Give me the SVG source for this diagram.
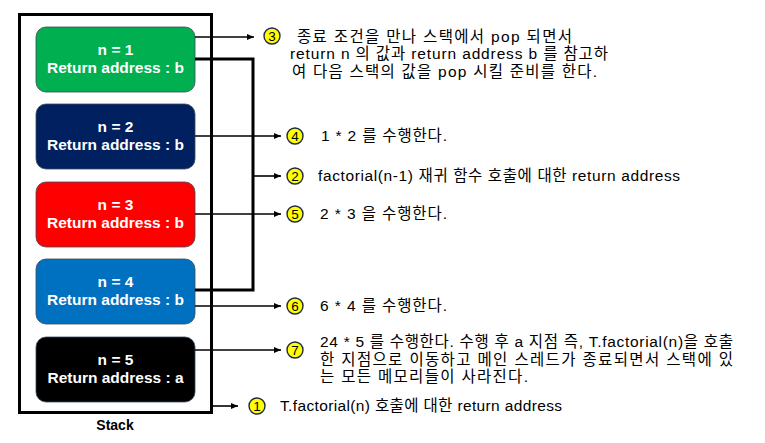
<svg xmlns="http://www.w3.org/2000/svg" width="765" height="443" viewBox="0 0 765 443">
<defs>
<marker id="ah" markerWidth="8" markerHeight="8" refX="7" refY="4" orient="auto" markerUnits="userSpaceOnUse">
<path d="M0,1 L7,4 L0,7 Z" fill="#000"/>
</marker>
<style>
.node rect{stroke:#3a4a5a;stroke-width:0.8}
.nt{font-family:"Liberation Sans",Arial,sans-serif;font-weight:bold;font-size:15.5px;fill:#fff;text-anchor:middle}
.lbl{font-family:"Liberation Sans","Noto Sans CJK KR",sans-serif;font-size:15.5px;fill:#000}
.num circle{fill:#FFFF00;stroke:#1f2a44;stroke-width:1.4}
.num text{font-family:"Liberation Sans",sans-serif;font-size:13.5px;fill:#000;text-anchor:middle}
.arr{stroke:#000;stroke-width:1.6;fill:none;marker-end:url(#ah)}
</style>
</defs>
<rect width="765" height="443" fill="#fff"/>
<g id="stack">
<rect x="19.5" y="14.5" width="192" height="398" fill="#fff" stroke="#000" stroke-width="3"/>
<text x="115" y="430" font-family="Liberation Sans, Arial, sans-serif" font-weight="bold" font-size="14" text-anchor="middle">Stack</text>
</g>
<g id="node1" class="node"><rect x="36" y="27" width="159" height="65" rx="10" fill="#00B050"/><text class="nt" x="115.5" y="55">n = 1</text><text class="nt" x="115.5" y="73">Return address : b</text></g>
<g id="node2" class="node"><rect x="36" y="104" width="159" height="65" rx="10" fill="#002060"/><text class="nt" x="115.5" y="132">n = 2</text><text class="nt" x="115.5" y="150">Return address : b</text></g>
<g id="node3" class="node"><rect x="36" y="182" width="159" height="65" rx="10" fill="#FF0000"/><text class="nt" x="115.5" y="210">n = 3</text><text class="nt" x="115.5" y="228">Return address : b</text></g>
<g id="node4" class="node"><rect x="36" y="259" width="159" height="65" rx="10" fill="#0070C0"/><text class="nt" x="115.5" y="287">n = 4</text><text class="nt" x="115.5" y="305">Return address : b</text></g>
<g id="node5" class="node"><rect x="36" y="337" width="159" height="65" rx="10" fill="#000000"/><text class="nt" x="115.5" y="365">n = 5</text><text class="nt" x="115.5" y="383">Return address : a</text></g>
<g id="connectors">
<polyline points="195,59 253,59 253,290 195,290" fill="none" stroke="#000" stroke-width="3"/>
<line class="arr" x1="195" y1="37" x2="254" y2="37"/>
<line class="arr" x1="195" y1="136" x2="281" y2="136"/>
<line class="arr" x1="253" y1="176" x2="281" y2="176"/>
<line class="arr" x1="195" y1="214" x2="281" y2="214"/>
<line class="arr" x1="195" y1="306" x2="281" y2="306"/>
<line class="arr" x1="195" y1="350" x2="281" y2="350"/>
<line class="arr" x1="213" y1="406" x2="238" y2="406"/>
</g>
<g id="note3"><g class="num"><circle cx="272" cy="36" r="8"/><text x="272" y="40.8">3</text></g>
<text class="lbl" x="297" y="41.5" textLength="275" lengthAdjust="spacing">종료 조건을 만나 스택에서 pop 되면서</text>
<text class="lbl" x="290" y="59" textLength="318" lengthAdjust="spacing">return n 의 값과 return address b 를 참고하</text>
<text class="lbl" x="292" y="76.5" textLength="305" lengthAdjust="spacing">여 다음 스택의 값을 pop 시킬 준비를 한다.</text></g>
<g id="note4"><g class="num"><circle cx="295" cy="136" r="8"/><text x="295" y="140.8">4</text></g>
<text class="lbl" x="321" y="141" textLength="126" lengthAdjust="spacing">1 * 2 를 수행한다.</text></g>
<g id="note2"><g class="num"><circle cx="295" cy="176" r="8"/><text x="295" y="180.8">2</text></g>
<text class="lbl" x="318" y="181" textLength="362" lengthAdjust="spacing">factorial(n-1) 재귀 함수 호출에 대한 return address</text></g>
<g id="note5"><g class="num"><circle cx="295" cy="214" r="8"/><text x="295" y="218.8">5</text></g>
<text class="lbl" x="320" y="219" textLength="127" lengthAdjust="spacing">2 * 3 을 수행한다.</text></g>
<g id="note6"><g class="num"><circle cx="295" cy="306" r="8"/><text x="295" y="310.8">6</text></g>
<text class="lbl" x="320" y="311" textLength="127" lengthAdjust="spacing">6 * 4 를 수행한다.</text></g>
<g id="note7"><g class="num"><circle cx="295" cy="350" r="8"/><text x="295" y="354.8">7</text></g>
<text class="lbl" x="320" y="347" textLength="413" lengthAdjust="spacing">24 * 5 를 수행한다. 수행 후 a 지점 즉, T.factorial(n)을 호출</text>
<text class="lbl" x="320" y="364.5" textLength="413" lengthAdjust="spacing">한 지점으로 이동하고 메인 스레드가 종료되면서 스택에 있</text>
<text class="lbl" x="320" y="382" textLength="208" lengthAdjust="spacing">는 모든 메모리들이 사라진다.</text></g>
<g id="note1"><g class="num"><circle cx="257" cy="406" r="8"/><text x="257" y="410.8">1</text></g>
<text class="lbl" x="280" y="411" textLength="282" lengthAdjust="spacing">T.factorial(n) 호출에 대한 return address</text></g>
</svg>
